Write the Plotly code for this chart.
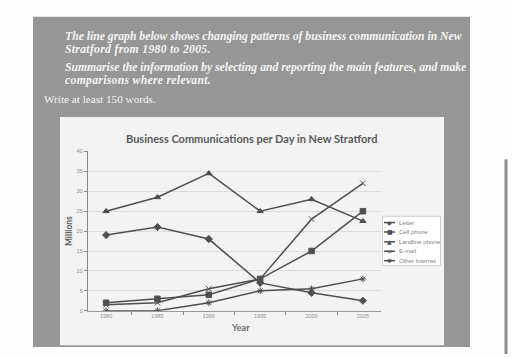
import plotly.graph_objects as go

W, H = 512, 357

years = ["1980", "1985", "1990", "1995", "2000", "2005"]
letter = [19, 21, 18, 7, 4.5, 2.5]
cell_phone = [2, 3, 4, 8, 15, 25]
landline = [25, 28.5, 34.5, 25, 28, 22.5]
email = [1.5, 2, 5.5, 8, 23, 32]
other_internet = [0, 0, 2, 5, 5.5, 8]

series_names = ["Letter", "Cell phone", "Landline phone", "E-mail", "Other Internet"]
series_values = [letter, cell_phone, landline, email, other_internet]
series_symbols = ["diamond", "square", "triangle-up", "x-thin-open", "asterisk-open"]
legend_glyphs = ["\u25c6", "\u25a0", "\u25b2", "\u2715", "\u2731"]

title_text = "Business Communications per Day in New Stratford"
prompt_lines = [
    "The line graph below shows changing patterns of business communication in New",
    "Stratford from 1980 to 2005.",
    "Summarise the information by selecting and reporting the main features, and make",
    "comparisons where relevant.",
]
prompt_spacing = [0, 0.3, 0, 0.3]
write_line = "Write at least 150 words."

LINE = "#4f4f4f"


def px(x):
    return x / W


def py(y):
    return 1 - y / H


fig = go.Figure()
for name, vals, sym in zip(series_names, series_values, series_symbols):
    fig.add_trace(go.Scatter(
        x=years, y=vals, name=name, mode="lines+markers",
        line=dict(color=LINE, width=1.5),
        marker=dict(symbol=sym, size=5.5, color=LINE, line=dict(color=LINE, width=1)),
        showlegend=False,
    ))

shapes = [
    dict(type="rect", xref="paper", yref="paper", x0=px(33), x1=px(470), y0=py(350), y1=py(14),
         fillcolor="#969696", line=dict(width=0), layer="below"),
    dict(type="rect", xref="paper", yref="paper", x0=px(60), x1=px(444), y0=py(348), y1=py(116),
         fillcolor="#f3f3f3", line=dict(width=0), layer="below"),
    dict(type="rect", xref="paper", yref="paper", x0=px(504.5), x1=px(507.5), y0=py(357), y1=py(159),
         fillcolor="#8a8a8a", line=dict(width=0), layer="below"),
    dict(type="rect", xref="paper", yref="paper", x0=px(382.5), x1=px(440.5), y0=py(267), y1=py(217),
         fillcolor="#ffffff", line=dict(color="#d0d0d0", width=1), layer="below"),
]

annotations = []
prompt_y = [34, 47.5, 65.5, 79]
for t, yy, ls in zip(prompt_lines, prompt_y, prompt_spacing):
    txt = "<b><i>" + t + "</i></b>"
    if ls:
        txt = '<span style="letter-spacing:%spx">' % ls + txt + "</span>"
    annotations.append(dict(text=txt, x=px(63), y=py(yy), xref="paper", yref="paper",
                            xanchor="left", yanchor="middle", showarrow=False,
                            font=dict(family="Liberation Serif", size=11.7, color="#f4f4f4")))
annotations.append(dict(text=write_line, x=px(42), y=py(97.5), xref="paper", yref="paper",
                        xanchor="left", yanchor="middle", showarrow=False,
                        font=dict(family="Liberation Serif", size=11.2, color="#f4f4f4")))
annotations.append(dict(text="<b>" + title_text + "</b>", x=px(251.5), y=py(138), xref="paper", yref="paper",
                        xanchor="center", yanchor="middle", showarrow=False,
                        font=dict(family="Lato", size=11, color="#5a5a5a")))
annotations.append(dict(text="<b>Millions</b>", x=px(69), y=py(232), xref="paper", yref="paper",
                        xanchor="center", yanchor="middle", showarrow=False, textangle=-90,
                        font=dict(family="Lato", size=8.5, color="#5a5a5a")))
annotations.append(dict(text="<b>Year</b>", x=px(240), y=py(330), xref="paper", yref="paper",
                        xanchor="center", yanchor="middle", showarrow=False,
                        font=dict(family="Lato", size=9, color="#6a6a6a")))

leg_y = [223.3, 232.9, 242.9, 252.5, 262.1]
for name, glyph, yy in zip(series_names, legend_glyphs, leg_y):
    shapes.append(dict(type="line", xref="paper", yref="paper", x0=px(384), x1=px(395), y0=py(yy), y1=py(yy),
                       line=dict(color=LINE, width=1.5)))
    annotations.append(dict(text=glyph, x=px(389.5), y=py(yy), xref="paper", yref="paper",
                            xanchor="center", yanchor="middle", showarrow=False,
                            font=dict(family="DejaVu Sans", size=6, color=LINE)))
    annotations.append(dict(text=name, x=px(397), y=py(yy), xref="paper", yref="paper",
                            xanchor="left", yanchor="middle", showarrow=False,
                            font=dict(family="Liberation Sans", size=6, color="#808080")))

fig.update_layout(
    width=W, height=H,
    margin=dict(l=0, r=0, t=0, b=0),
    paper_bgcolor="#fdfdfd",
    plot_bgcolor="#ffffff",
    shapes=shapes,
    annotations=annotations,
    xaxis=dict(domain=[px(88), px(381)], type="category", tickson="boundaries",
               ticks="outside", ticklen=3, tickcolor="#888", showline=True, linecolor="#999",
               linewidth=1, showgrid=False,
               tickfont=dict(family="Liberation Sans", size=5.5, color="#909090")),
    yaxis=dict(domain=[py(313), py(151)], range=[0, 40], dtick=5, ticks="outside", ticklen=3,
               tickcolor="#888", showline=True, linecolor="#888", linewidth=1.2,
               gridcolor="#dcdcdc", gridwidth=1, zeroline=False,
               tickfont=dict(family="Liberation Sans", size=5.5, color="#909090")),
)

fig.write_html("out.html", config={"displayModeBar": False, "staticPlot": True},
               post_script="document.body.style.margin='0px';document.body.style.overflow='hidden';")
